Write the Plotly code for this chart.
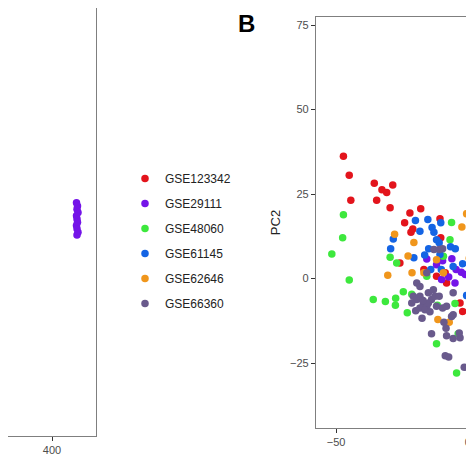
import plotly.graph_objects as go

series = ["GSE123342", "GSE29111", "GSE48060", "GSE61145", "GSE62646", "GSE66360"]
colors = ["#E3141C", "#7414E8", "#3DE83D", "#1464E4", "#F0961C", "#695A8C"]

pc1 = {
 "GSE123342": [-47.2,-45.0,-44.4,-35.5,-34.6,-32.6,-30.8,-28.5,-29.5,-22.0,-17.9,-24.0,-20.9,-21.6,-10.6,-10.3,-25.8,-16.7,-8.6,-3.0,-2.0,1.0,-11.9,-8.1,1.8,2.0],
 "GSE29111": [-15.6,-11.9,-9.6,-6.1,-4.5,-2.5,-1.0,-7.3,-4.9,0.8,-10.0,1.9],
 "GSE48060": [-47.2,-47.5,-51.6,-45.0,-29.5,-27.0,-35.9,-31.3,-27.4,-27.5,-24.5,-23.0,-21.3,-6.2,-6.8,-9.3,-4.9,-11.6,-3.7,-11.9,-4.3,-15.6,1.2],
 "GSE61145": [-28.3,-29.3,-19.9,-18.2,-15.2,-13.6,-12.9,-10.3,-10.9,-14.9,-20.5,-16.4,-14.1,-10.6,-10.1,-6.6,-4.8,-2.0,-5.6,-0.5,-11.9,1.5],
 "GSE62646": [-27.8,-20.5,-22.7,-30.4,-21.2,-16.7,-11.9,-9.3,-0.5,-2.3,0.5,-11.4,-7.1,1.4],
 "GSE66360": [-19.4,-18.2,-20.7,-19.4,-18.2,-16.9,-15.6,-15.0,-13.8,-11.9,-12.5,-21.3,-18.2,-16.3,-15.0,-13.1,-10.9,-9.6,-17.4,-13.8,-9.1,-8.3,-8.1,-5.6,-3.0,-3.3,-6.2,-5.6,-8.6,-7.3,-1.4,2.0,-12.9,-10.9,-9.6,1.0,-8.1,-15.6,-5.6,-17.0,-19.8,-14.4],
}
pc2 = {
 "GSE123342": [36.2,30.6,23.2,28.2,23.2,26.3,25.5,27.7,21.0,19.4,20.7,16.5,14.7,13.7,17.7,12.1,4.6,2.7,1.7,-7.2,-9.7,-9.0,0.7,-1.3,6.0,-3.0],
 "GSE29111": [5.8,4.1,5.3,5.9,2.7,1.9,1.2,0.5,-1.3,-2.3,-0.3,4.0],
 "GSE48060": [18.9,12.1,7.3,-0.4,6.3,4.6,-6.2,-6.8,-5.8,-7.9,-3.9,-10.1,-4.6,16.6,11.5,6.6,-7.4,-7.9,-16.3,-19.3,-27.9,0.7,3.0],
 "GSE61145": [11.7,8.8,17.2,14.0,17.5,15.1,13.7,16.5,10.6,8.8,6.2,7.0,2.7,7.1,2.7,9.4,8.8,4.4,3.6,-5.0,11.5,-1.5],
 "GSE62646": [13.1,10.7,6.7,1.0,1.7,1.7,5.6,1.7,19.2,15.3,6.0,-12.1,-12.9,-0.3],
 "GSE66360": [-1.3,-2.3,-5.2,-6.2,-5.2,-7.2,-8.2,-4.2,-6.2,-8.2,-5.2,-7.2,-8.7,-9.2,-7.2,-3.3,-5.2,-8.7,-11.7,-16.3,-12.9,-14.7,-16.9,-17.7,-17.5,-16.1,-11.2,-10.7,-22.8,-23.2,-26.2,-34.6,8.6,8.6,8.8,9.8,-8.2,1.7,-4.2,-6.5,-9.5,-9.8],
}

# left panel (partially visible): GSE29111 cluster
left_x = [449, 451, 450, 452, 449, 450, 451, 449, 450, 452, 450]
left_y = [7.0, 5.5, 4.0, 2.5, 1.0, -0.5, -2.0, -3.5, -5.0, -6.5, -7.8]

fig = go.Figure()
for s, c in zip(series, colors):
    fig.add_trace(go.Scatter(x=pc1[s], y=pc2[s], mode="markers", name=s,
                             legendgroup=s, marker=dict(color=c, size=7.5),
                             xaxis="x2", yaxis="y2"))
fig.add_trace(go.Scatter(x=left_x, y=left_y, mode="markers", showlegend=False,
                         marker=dict(color=colors[1], size=7.5), xaxis="x", yaxis="y"))

tickfont = dict(family="Liberation Sans, Arial", size=11, color="#4d4d4d")
W = 466  # page body adds an 8px offset
O = 8
fig.update_layout(
    width=W, height=W, margin=dict(l=0, r=0, t=0, b=0),
    paper_bgcolor="white", plot_bgcolor="white",
    xaxis=dict(domain=[0, (96-O)/W], range=[312, 488], tickvals=[400], ticks="outside",
               ticklen=4, tickcolor="#333", showline=True, linecolor="#7f7f7f",
               linewidth=1.3, showgrid=False, zeroline=False, tickfont=tickfont),
    yaxis=dict(domain=[1-(436-O)/W, 1], range=[-100, 96.3], side="right", showline=True,
               linecolor="#7f7f7f", linewidth=1.3, showticklabels=False, ticks="",
               showgrid=False, zeroline=False),
    xaxis2=dict(domain=[(316-O)/W, 1], range=[-57.6, 2.3], tickvals=[-50, 0], anchor="y2",
                ticks="outside", ticklen=4, tickcolor="#333", showline=True, mirror=True,
                linecolor="#7f7f7f", linewidth=1.3, showgrid=False, zeroline=False,
                tickfont=tickfont),
    yaxis2=dict(domain=[1-(428-O)/W, 1-(17-O)/W], range=[-44.2, 77.4], tickvals=[-25, 0, 25, 50, 75],
                anchor="x2", ticks="outside", ticklen=4, tickcolor="#333", showline=True,
                linecolor="#7f7f7f", linewidth=1.3, showgrid=False, zeroline=False,
                tickfont=tickfont,
                title=dict(text="PC2", font=dict(family="Liberation Sans, Arial", size=13, color="#222"), standoff=6)),
    legend=dict(x=(125-O)/W, y=1-(164-O)/W, xanchor="left", yanchor="top", tracegroupgap=6,
                font=dict(family="Liberation Sans, Arial", size=12, color="#222"),
                bgcolor="rgba(0,0,0,0)"),
    annotations=[dict(text="<b>B</b>", x=(236-O)/W, y=1, xref="paper", yref="paper",
                      xanchor="left", yanchor="top", showarrow=False,
                      font=dict(family="Liberation Sans, Arial", size=24, color="black"))],
)
fig.write_html("out.html")
